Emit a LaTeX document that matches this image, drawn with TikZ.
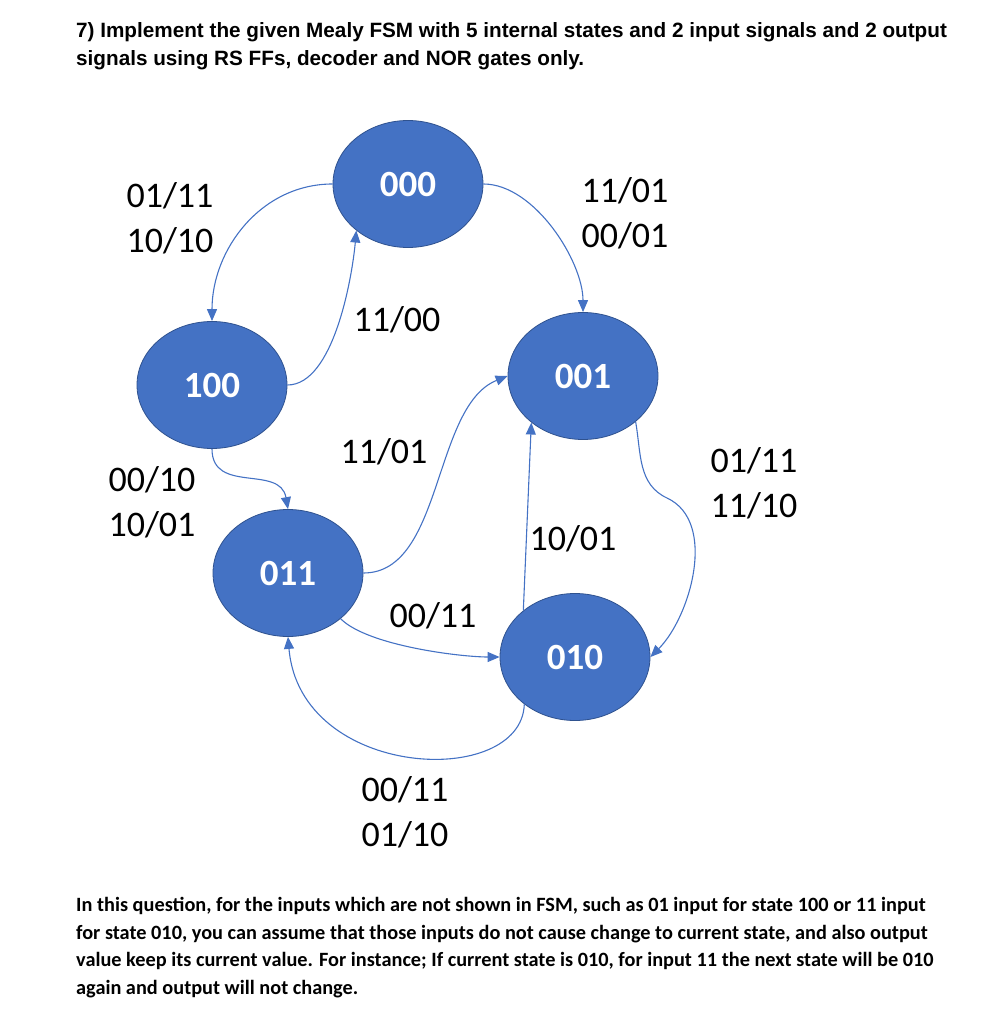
\documentclass[tikz,border=0pt]{standalone}
\usepackage{fontspec}
\setmainfont{Carlito}
\newfontfamily\headfont{Liberation Sans}
\usetikzlibrary{shapes.geometric,arrows.meta}
\definecolor{stateblue}{HTML}{4472C4}
\definecolor{stateedge}{HTML}{2F528F}

\begin{document}
\begin{tikzpicture}[x=1pt,y=1pt,
    fsmstate/.style={ellipse,fill=stateblue,draw=stateedge,line width=0.8pt,minimum width=150pt,minimum height=127pt,text=white,font=\fontsize{37}{44}\selectfont\bfseries},
    trans/.style={draw=stateblue,line width=1.1pt,-{Triangle[length=12pt,width=10pt]}},
    translabel/.style={font=\fontsize{36}{45}\selectfont,align=center}]
            \tikzstyle{every node}+=[inner sep=0pt]
            \useasboundingbox (0,0) rectangle (1001,-1024);
            \node [anchor=north west,align=left,font=\headfont\bfseries\fontsize{20.7}{28}\selectfont] (question) at (76,-22) {7) Implement the given Mealy FSM with 5 internal states and 2 input signals and 2 output\\signals using RS FFs, decoder and NOR gates only.};
            \node [fsmstate] (s000) at (408,-184) {000};
            \node [fsmstate] (s100) at (212,-385) {100};
            \node [fsmstate] (s001) at (583,-376) {001};
            \node [fsmstate] (s011) at (288,-573) {011};
            \node [fsmstate] (s010) at (575,-657) {010};
            \coordinate (kink001) at (667,-498);
            \draw [trans] (s000.west) to[out=180,in=90] (s100.north);
            \node [translabel] (l000a) at (170,-218) {01/11\\10/10};
            \draw [trans] (s100.east) to[out=0,in=265,looseness=0.7] (s000.222);
            \node [translabel] (l100a) at (397,-320) {11/00};
            \draw [trans] (s000.east) to[out=0,in=90,looseness=0.8] (s001.north);
            \node [translabel] (l000b) at (625,-213) {11/01\\00/01};
            \draw [trans] (s100.south) to[out=-90,in=100,looseness=1.2] (s011.north);
            \node [translabel] (l100b) at (152,-502) {00/10\\10/01};
            \draw [trans] (s011.east) .. controls +(80,0) and +(-75,-30) .. (s001.west);
            \node [translabel] (l011a) at (384,-452) {11/01};
            \draw [trans] (s010.138) -- (s001.222);
            \node [translabel] (l010a) at (573,-539) {10/01};
            \draw [trans] (s001.-41) to[out=-80,in=155] (kink001) to[out=-25,in=45,looseness=0.9] (s010.east);
            \node [translabel] (l001a) at (754,-483) {01/11\\11/10};
            \draw [trans] (s011.-41) to[out=-45,in=180,looseness=0.6] (s010.west);
            \node [translabel] (l011b) at (433,-616) {00/11};
            \draw [trans] (s010.223) .. controls +(-3,-85) and +(12,-143) .. (s011.south);
            \node [translabel] (l010b) at (405,-812) {00/11\\01/10};
            \node [anchor=north west,align=left,font=\fontsize{20.3}{27.7}\selectfont\bfseries] (note) at (76,-897) {In this question, for the inputs which are not shown in FSM, such as 01 input for state 100 or 11 input\\for state 010, you can assume that those inputs do not cause change to current state, and also output\\value keep its current value. For instance; If current state is 010, for input 11 the next state will be 010\\again and output will not change.};
\end{tikzpicture}
\end{document}
